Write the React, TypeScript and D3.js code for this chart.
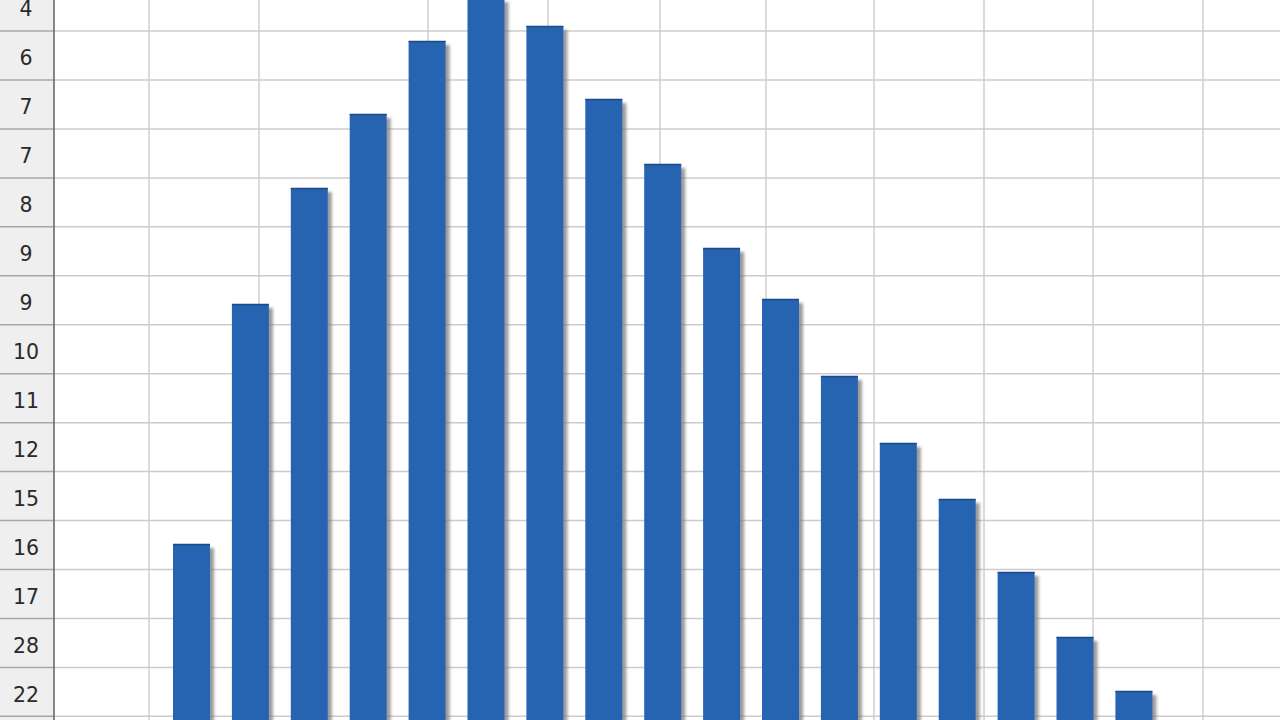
import React from "react";
import * as d3 from "d3";

// ---- data ----
const categories: string[] = ["1","2","3","4","5","6","7","8","9","10","11","12","13","14","15","16","17"];
const values: number[] = [176, 416, 532, 606, 679, 722, 694, 621, 556, 472, 421, 344, 277, 221, 148, 83, 29];
const rowLabels: string[] = ["4","6","7","7","8","9","9","10","11","12","15","16","17","28","22"];

// ---- layout ----
const W = 1280;
const H = 720;
const headerW = 54;
const rowH = 48.95;
const firstRowTop = -17.9;
const colLines: number[] = [149, 259, 428, 548, 660, 766, 874, 984, 1093, 1203];

export default function App() {
  const x = d3
    .scaleBand<string>()
    .domain(categories)
    .range([173, 1152.4])
    .paddingInner(0.372)
    .paddingOuter(0);
  const y = d3.scaleLinear().domain([0, 720]).range([H, 0]);

  const rows = d3.range(rowLabels.length + 1);

  return (
    <svg
      width={W}
      height={H}
      style={{ position: "absolute", left: 0, top: 0, background: "#fff" }}
    >
      <defs>
        <filter id="shadow" x="-20%" y="-5%" width="150%" height="120%">
          <feDropShadow dx="4" dy="4" stdDeviation="1.6" floodColor="#7a7a7a" floodOpacity="0.75" />
        </filter>
      </defs>
      <rect x={0} y={0} width={W} height={H} fill="#ffffff" />
      {/* row header */}
      <rect x={0} y={0} width={headerW} height={H} fill="#efefef" />
      {/* vertical grid lines */}
      {colLines.map((cx, i) => (
        <line key={"v" + i} x1={cx} x2={cx} y1={0} y2={H} stroke="#cfcfcf" strokeWidth={1.5} />
      ))}
      {/* horizontal grid lines */}
      {rows.map((r) => {
        const yy = firstRowTop + r * rowH;
        return (
          <g key={"h" + r}>
            <line x1={headerW} x2={W} y1={yy} y2={yy} stroke="#cccccc" strokeWidth={1.5} />
            <line x1={0} x2={headerW} y1={yy} y2={yy} stroke="#a8a8a8" strokeWidth={1.5} />
          </g>
        );
      })}
      <line x1={headerW} x2={headerW} y1={0} y2={H} stroke="#6a6a6a" strokeWidth={1.6} />
      {/* row labels */}
      {rowLabels.map((lab, i) => (
        <text
          key={"l" + i}
          x={26}
          y={firstRowTop + (i + 0.5) * rowH + 2.5}
          dy="0.36em"
          textAnchor="middle"
          fontFamily="DejaVu Sans, sans-serif"
          fontSize={20.5}
          fill="#2a2a2a"
        >
          {lab}
        </text>
      ))}
      {/* bars */}
      {categories.map((c, i) => {
        const bx = x(c) as number;
        const top = y(values[i]);
        return (
          <g key={"b" + i}>
            <rect
              x={bx}
              y={top}
              width={x.bandwidth()}
              height={H + 20 - top}
              fill="#2763b1"
              filter="url(#shadow)"
            />
            <line x1={bx} x2={bx + x.bandwidth()} y1={top + 0.5} y2={top + 0.5} stroke="#1b4a88" strokeWidth={1.5} />
          </g>
        );
      })}
    </svg>
  );
}
